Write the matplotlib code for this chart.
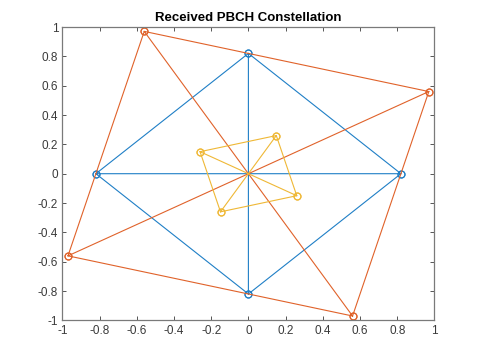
import matplotlib
matplotlib.use("Agg")
import matplotlib.pyplot as plt
import numpy as np

nan = float('nan')
# constellation points, in the order the line visits them (nan = pen up)
blue_re = [0, 0.82, 0, -0.82, 0, 0, nan, 0.82, -0.82]
blue_im = [0.82, 0, -0.82, 0, 0.82, -0.82, nan, 0, 0]
orange_re = [-0.56, 0.97, 0.56, -0.97, -0.56, 0.56, nan, 0.97, -0.97]
orange_im = [0.97, 0.56, -0.97, -0.56, 0.97, -0.97, nan, 0.56, -0.56]
yellow_re = [0.15, 0.26, -0.15, -0.26, 0.15, -0.15, nan, 0.26, -0.26]
yellow_im = [0.26, -0.15, -0.26, 0.15, 0.26, -0.26, nan, -0.15, 0.15]

ticks = np.round(np.arange(-1, 1.01, 0.2), 1)
tick_labels = ["-1", "-0.8", "-0.6", "-0.4", "-0.2", "0", "0.2", "0.4", "0.6", "0.8", "1"]

plt.rcParams['font.family'] = ['Liberation Sans', 'DejaVu Sans']

fig = plt.figure(figsize=(4.8, 3.6), dpi=100)
ax = fig.add_axes([0.13, 0.11, 0.775, 0.815])

ax.plot(blue_re, blue_im, '-o', color='#1f7fc6', lw=0.8, ms=5, mfc='none', mew=0.8)
ax.plot(orange_re, orange_im, '-o', color='#e0622a', lw=0.8, ms=5, mfc='none', mew=0.8)
ax.plot(yellow_re, yellow_im, '-o', color='#efb836', lw=0.8, ms=5, mfc='none', mew=0.8)

ax.set_xlim(-1, 1)
ax.set_ylim(-1, 1)
ax.set_xticks(ticks)
ax.set_yticks(ticks)
ax.set_xticklabels(tick_labels)
ax.set_yticklabels(tick_labels)
ax.tick_params(direction='in', top=True, right=True, length=3, width=0.6,
               labelsize=8.5, colors='#3a3a3a', pad=3)
for s in ax.spines.values():
    s.set_color('#7a7a7a')
    s.set_linewidth(0.9)

ax.set_title("Received PBCH Constellation", fontsize=9.5, fontweight='bold', pad=4)

fig.savefig("out.png", dpi=100)
